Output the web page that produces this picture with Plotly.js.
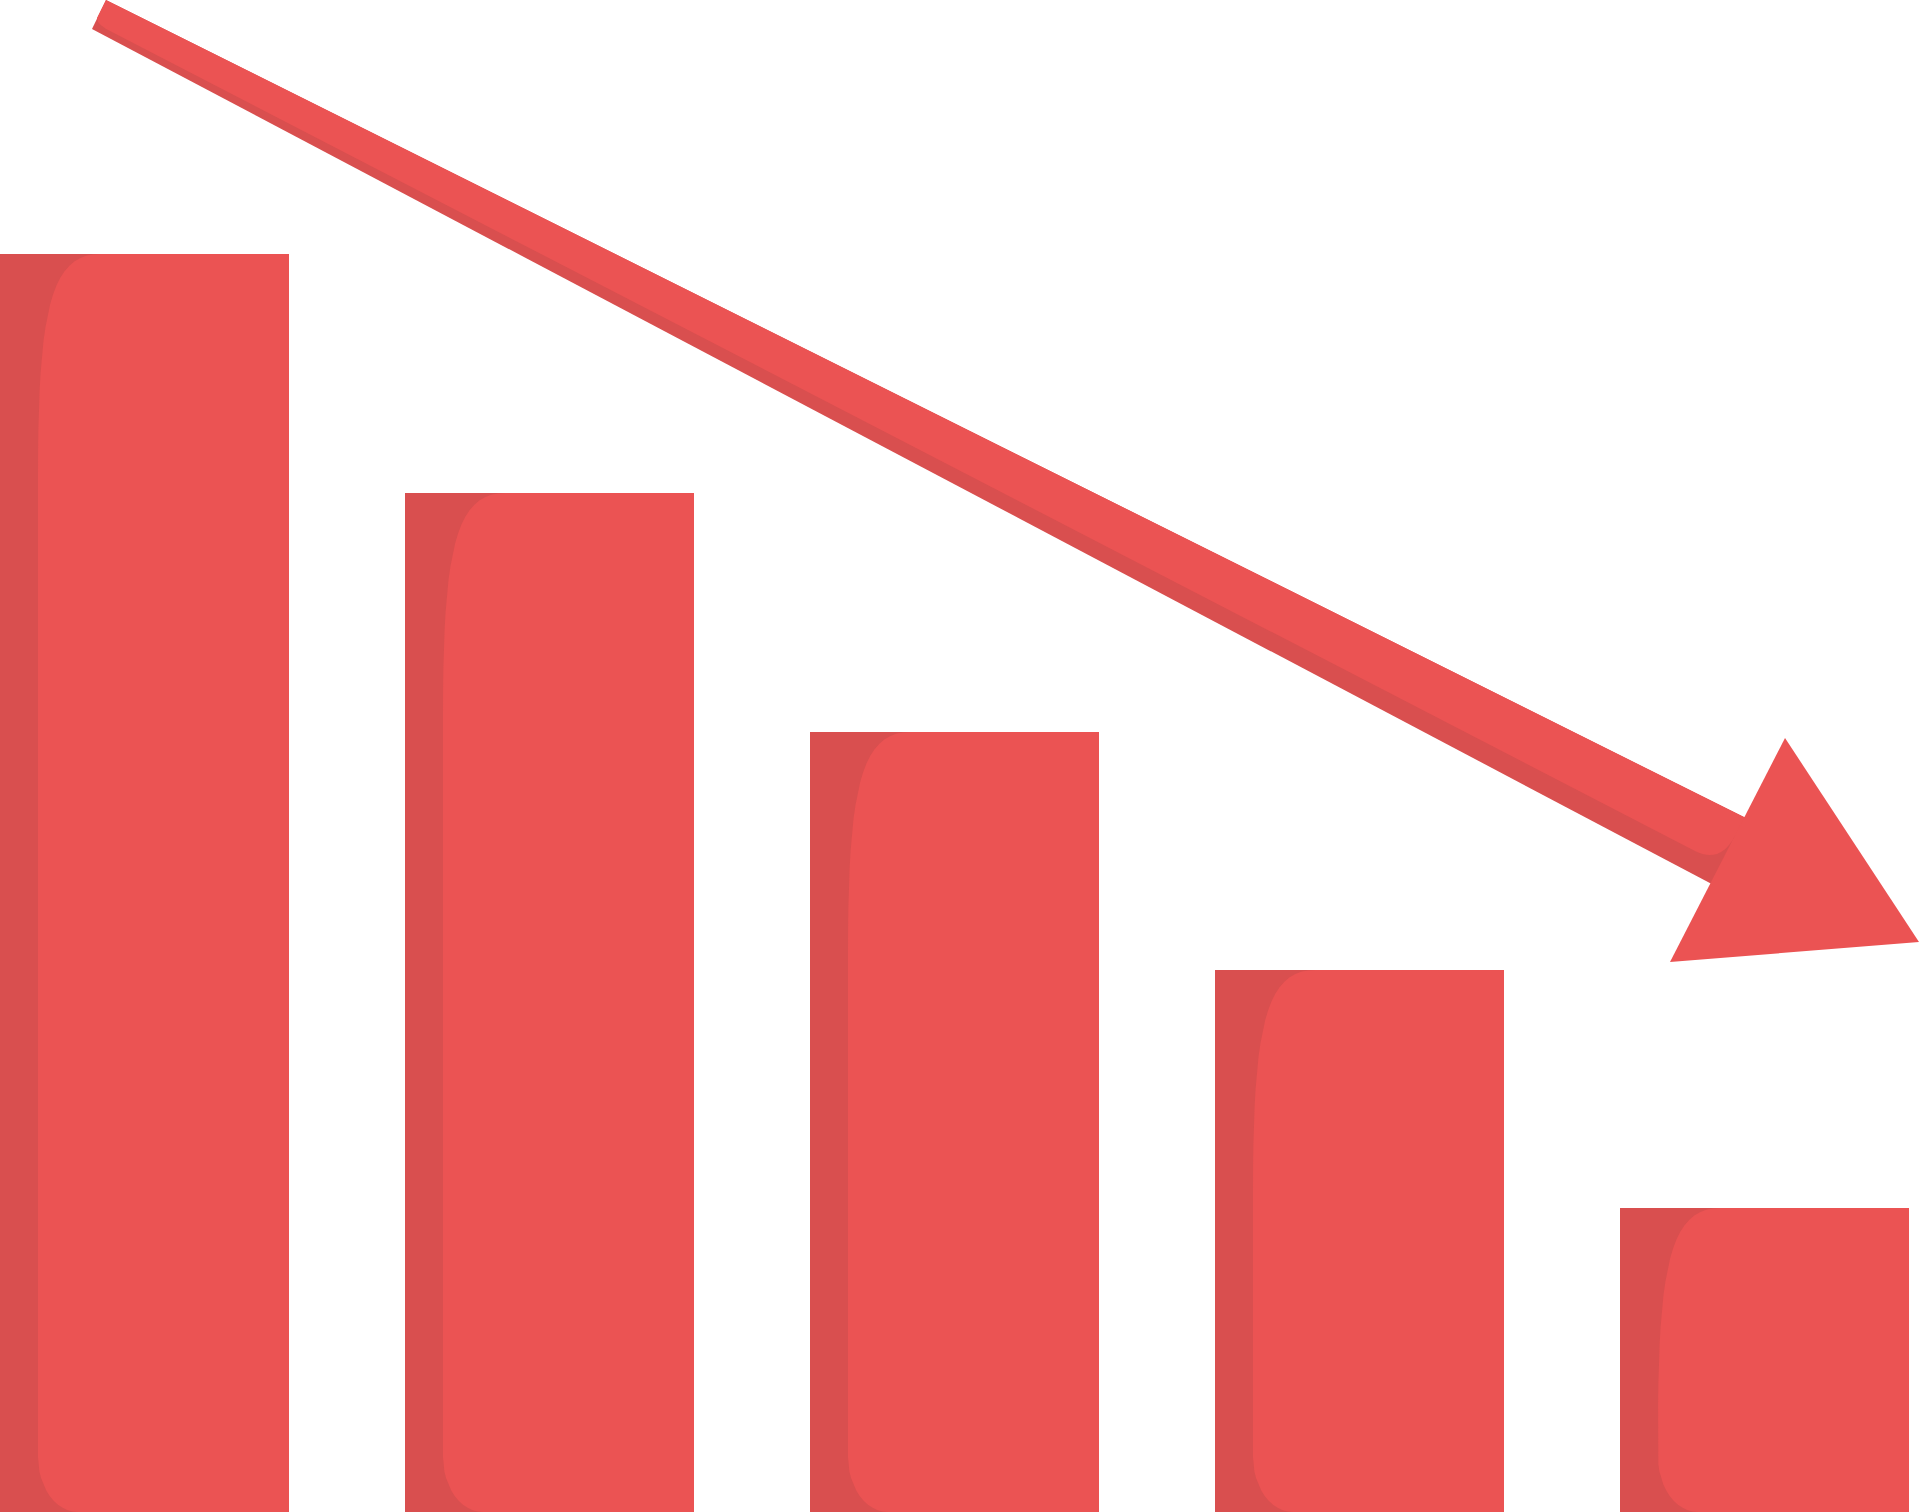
<!DOCTYPE html>
<html>
<head>
<meta charset="utf-8">
<script src="https://cdn.plot.ly/plotly-3.0.1.min.js"></script>
<style>
  html, body { margin: 0; padding: 0; background: #fff; }
</style>
</head>
<body>
<div id="myDiv"></div>
<script>
// data: five periods, each one lower than the last
let periods = [1, 2, 3, 4, 5]
let values = [1258, 1019, 780, 542, 304]

// page size and bar spacing (pixels)
let W = 1920
let H = 1512
let step = 405      // distance between bar starts
let barPx = 289     // bar width
let firstCenter = 144.5

let light = '#EB5353'
let dark = '#D94F4F'

// x axis in period units, y axis in pixels
let ux = 1 / step
let xRange = [periods[0] - firstCenter * ux, periods[0] + (W - firstCenter) * ux]

// cubic bezier helper
function bez (p0, p1, p2, p3, t) {
  let a = Math.pow(1 - t, 3), b = 3 * Math.pow(1 - t, 2) * t, c = 3 * (1 - t) * t * t, d = t * t * t
  return [a*p0[0] + b*p1[0] + c*p2[0] + d*p3[0], a*p0[1] + b*p1[1] + c*p2[1] + d*p3[1]]
}

// darker strip on the left of each bar, built from the bar values
let sx = []
let sy = []
periods.forEach((p, i) => {
  let left = p - barPx * ux / 2
  let top = values[i]
  sx.push(left, left)
  sy.push(0, top)
  // rounded top corner of the lighter face
  for (let k = 0; k <= 20; k++) {
    let pt = bez([100, 0], [50, 0], [38, 60], [38, 220], k / 20)
    sx.push(left + pt[0] * ux)
    sy.push(top - pt[1])
  }
  // rounded bottom corner
  for (let k = 0; k <= 12; k++) {
    let th = (k / 12) * Math.PI / 2
    sx.push(left + (78 - 40 * Math.cos(th)) * ux)
    sy.push(55 - 55 * Math.sin(th))
  }
  sx.push(null)
  sy.push(null)
})

var bars = {
  x: periods,
  y: values,
  type: 'bar',
  width: barPx * ux,
  marker: {color: light, line: {width: 0}},
  hoverinfo: 'y'
}

var strips = {
  x: sx,
  y: sy,
  mode: 'lines',
  fill: 'toself',
  fillcolor: dark,
  line: {width: 0, color: dark},
  hoverinfo: 'skip'
}

// trend arrow, drawn in page pixels
function P (x, y) {
  return (x / W).toFixed(5) + ',' + (1 - y / H).toFixed(5)
}
let shaftDark = 'M' + P(106, 0) + ' L' + P(1770, 830) + ' L' + P(1725, 891) + ' L' + P(92, 29) + ' Z'
let shaftLight = 'M' + P(106, 0) + ' L' + P(1770, 830) + ' L' + P(1735, 836) +
  ' Q' + P(1720, 864) + ' ' + P(1695, 851) + ' L' + P(112, 32) + ' Q' + P(97, 25) + ' ' + P(97, 18) + ' Z'
let head = 'M' + P(1785, 738) + ' L' + P(1919, 942) + ' L' + P(1670, 962) + ' Z'

let shapes = [
  {type: 'path', xref: 'paper', yref: 'paper', path: shaftDark, fillcolor: dark, line: {width: 0}},
  {type: 'path', xref: 'paper', yref: 'paper', path: shaftLight, fillcolor: light, line: {width: 0}},
  {type: 'path', xref: 'paper', yref: 'paper', path: head, fillcolor: light, line: {width: 0}}
]

Plotly.newPlot('myDiv', [bars, strips], {
  width: W,
  height: H,
  margin: {l: 0, r: 0, t: 0, b: 0, pad: 0},
  showlegend: false,
  paper_bgcolor: '#ffffff',
  plot_bgcolor: '#ffffff',
  xaxis: {range: xRange, visible: false, fixedrange: true},
  yaxis: {range: [0, H], visible: false, fixedrange: true},
  shapes: shapes
}, {displayModeBar: false, staticPlot: true})
</script>
</body>
</html>
